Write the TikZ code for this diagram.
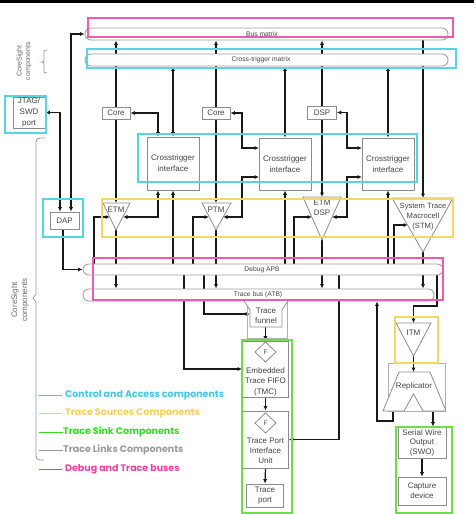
\documentclass[tikz,border=0pt]{standalone}
\usepackage{fontspec}
\setmainfont{Liberation Sans}
\newfontfamily\legendfont{Poppins}
\usetikzlibrary{arrows.meta}
\pgfdeclarelayer{back}
\pgfsetlayers{back,main}
\definecolor{cyanc}{HTML}{55D6E2}
\definecolor{yellc}{HTML}{F5D766}
\definecolor{greenc}{HTML}{6FDD4A}
\definecolor{pinkc}{HTML}{EE5AAE}
\definecolor{boxg}{HTML}{8C8C8C}
\definecolor{barg}{HTML}{A0A0A0}
\definecolor{txtg}{HTML}{444444}
\definecolor{lcyan}{HTML}{3CCBE0}
\definecolor{lyell}{HTML}{F7CF5A}
\definecolor{lgreen}{HTML}{33DD22}
\definecolor{lgray}{HTML}{9A9A9A}
\definecolor{lpink}{HTML}{EE3FA0}
\begin{document}
\begin{tikzpicture}[x=1pt,y=-1pt,
  conn/.style={line width=1.25pt,draw=black!90},
  arr/.style={conn,-{Latex[length=4.5pt,width=4.2pt]}},
  darr/.style={conn,{Latex[length=4.5pt,width=4.2pt]}-{Latex[length=4.5pt,width=4.2pt]}},
  gbox/.style={draw=boxg,line width=0.8pt,fill=white,inner sep=0pt,font=\fontsize{8}{10}\selectfont,text=txtg,align=center},
  obox/.style={draw=boxg!70,line width=0.8pt},
  bar/.style={draw=barg,line width=0.9pt,fill=white,rounded corners=5.8pt,inner sep=0pt},
  bartxt/.style={font=\fontsize{6.7}{7}\selectfont,text=txtg,inner sep=0pt},
  lbl/.style={font=\fontsize{8}{10}\selectfont,text=txtg,inner sep=0pt,align=center},
  shp/.style={draw=boxg,line width=0.8pt,fill=white},
  grp/.style={line width=1.1pt},
  brk/.style={draw=lgray,line width=0.8pt},
  legend/.style={font=\legendfont\bfseries\fontsize{9.5}{11}\selectfont,inner sep=0pt,anchor=west},
  legline/.style={line width=0.8pt}
]
\useasboundingbox (0,0) rectangle (474,514);
\fill[black] (0,0) rectangle (474,3);

% ---------- buses ----------
\node[bar,minimum width=363pt,minimum height=12pt] (busbar) at (266.5,34) {};
\node[bar,minimum width=363pt,minimum height=12pt] (ctmbar) at (266.5,60) {};
\node[bar,minimum width=360pt,minimum height=11pt] (apbbar) at (263,269.5) {};
\node[bar,minimum width=351pt,minimum height=12pt] (atbbar) at (258.5,295) {};
\node[bartxt] (buslbl) at (262,34) {Bus matrix};
\node[bartxt] (ctmlbl) at (261,60) {Cross-trigger matrix};
\node[bartxt] (apblbl) at (262,269.5) {Debug APB};
\node[bartxt] (atblbl) at (258,295) {Trace bus (ATB)};

% ---------- boxes ----------
\node[gbox,minimum width=32pt,minimum height=31pt,font=\fontsize{8}{11}\selectfont] (jtag) at (29,112.5) {JTAG/\\SWD\\port};
\node[gbox,minimum width=28pt,minimum height=12pt] (core1) at (116,113) {Core};
\node[gbox,minimum width=28pt,minimum height=12pt] (core2) at (216,113) {Core};
\node[gbox,minimum width=29pt,minimum height=13pt] (dsp) at (322,112.5) {DSP};
\node[gbox,minimum width=52pt,minimum height=53pt,font=\fontsize{8}{11}\selectfont] (cti1) at (173,163.5) {Crosstrigger\\interface};
\node[gbox,minimum width=52pt,minimum height=52pt,font=\fontsize{8}{11}\selectfont] (cti2) at (285,164) {Crosstrigger\\interface};
\node[gbox,minimum width=52pt,minimum height=52pt,font=\fontsize{8}{11}\selectfont] (cti3) at (388,164) {Crosstrigger\\interface};
\node[gbox,minimum width=29pt,minimum height=17pt] (dap) at (64.5,220.5) {DAP};

\node[gbox,minimum width=46pt,minimum height=56pt] (etf) at (265.5,369) {};
\node[gbox,minimum width=46pt,minimum height=57pt] (tpiu) at (265.5,439.5) {};
\node[gbox,minimum width=37pt,minimum height=23pt] (tport) at (265,495.5) {Trace\\port};
\node[gbox,minimum width=48pt,minimum height=31pt,font=\fontsize{8}{9.5}\selectfont] (swo) at (422,442.5) {Serial Wire\\Output\\(SWO)};
\node[gbox,minimum width=48pt,minimum height=28pt] (capt) at (422,491) {Capture\\device};

% diamonds and texts of sink boxes
\draw[shp] (265.5,342) -- (276,352) -- (265.5,362) -- (255,352) -- cycle;
\node[lbl,font=\fontsize{6.5}{7}\selectfont] (f1) at (265.5,352) {F};
\node[lbl,font=\fontsize{8}{10.5}\selectfont] (etftxt) at (265.5,381.5) {Embedded\\Trace FIFO\\(TMC)};
\draw[shp] (265.5,413) -- (276,423) -- (265.5,433) -- (255,423) -- cycle;
\node[lbl,font=\fontsize{6.5}{7}\selectfont] (f2) at (265.5,423) {F};
\node[lbl] (tpiutxt) at (265.5,451) {Trace Port\\Interface\\Unit};

% trace funnel
\draw[obox] (247,300) rectangle (287,338);
\draw[shp] (244,301) -- (250,310) -- (250,327) -- (282,327) -- (282,310) -- (288,301);
\node[lbl] (funtxt) at (266,316) {Trace\\funnel};

% replicator
\draw[obox] (388,363) rectangle (445,411);
\draw[shp] (399,372) -- (430,372) -- (446,411) -- (423,411) -- (413.5,394) -- (404,411) -- (383,411) -- cycle;
\node[lbl] (reptxt) at (414,386) {Replicator};

% ---------- triangles ----------
\draw[shp] (103,203) -- (130,203) -- (116,230) -- cycle;
\node[lbl] (etm) at (116,209.5) {ETM};
\draw[shp] (202,203) -- (231,203) -- (216,230) -- cycle;
\node[lbl] (ptm) at (216,209.5) {PTM};
\draw[shp] (303,197) -- (341,197) -- (322,240) -- cycle;
\node[lbl] (etmdsp) at (322,208) {ETM\\DSP};
\draw[shp] (392,198) -- (453,198) -- (423,252) -- cycle;
\node[lbl,font=\fontsize{7.6}{10}\selectfont] (stm) at (423,217) {System Trace\\Macrocell\\(STM)};
\draw[shp] (396,323) -- (431,323) -- (413.5,356) -- cycle;
\node[lbl] (itm) at (413.5,333) {ITM};

% ---------- port coordinates ----------
\coordinate (etmT) at (116,203); \coordinate (etmB) at (116,230);
\coordinate (etmL) at (110,217); \coordinate (etmR) at (123,217);
\coordinate (ptmT) at (216,203); \coordinate (ptmB) at (216,230);
\coordinate (ptmL) at (209,217); \coordinate (ptmR) at (223,217);
\coordinate (edT) at (322,197); \coordinate (edB) at (322,240);
\coordinate (edL) at (312,217); \coordinate (edR) at (332,217);
\coordinate (stmT) at (423,198); \coordinate (stmB) at (423,252);
\coordinate (stmL) at (408,225);
\coordinate (itmT) at (413.5,323); \coordinate (itmB) at (413.5,356);
\coordinate (repT) at (413.5,372); \coordinate (repL) at (393,411);
\coordinate (repR) at (433,411); \coordinate (repbend) at (393,421);
\coordinate (funL) at (250,314); \coordinate (funB) at (265.5,327);
\coordinate (itmbend) at (437,306);
\coordinate (cti2u) at (259,148); \coordinate (cti2l) at (259,177);
\coordinate (cti3u) at (362,148); \coordinate (cti3l) at (362,177);
\coordinate (k60) at (60,0); \coordinate (k71) at (71,0); \coordinate (k63) at (63,0);
\coordinate (k94) at (94,0); \coordinate (k158) at (158,0); \coordinate (k173) at (173,0);
\coordinate (k193) at (193,0); \coordinate (k242) at (242,0); \coordinate (k294) at (294,0);
\coordinate (k347) at (347,0); \coordinate (k394) at (394,0); \coordinate (k184) at (184,0);
\coordinate (k204) at (204,0); \coordinate (k339) at (339,0); \coordinate (k377) at (377,0);

% ---------- connectors ----------
\begin{pgfonlayer}{back}
\draw[darr] (jtag.east) -| (dap.north -| k60);
\draw[darr] (busbar.west) -| (dap.north -| k71);
\draw[arr] (dap.south -| k63) |- (apbbar.west);
% core 1
\draw[arr] (core1.north) -- (core1.north |- busbar.south);
\draw[arr] (core1.south) -- (etmT);
\draw[darr] (core1.east) -| (cti1.north -| k158);
\draw[darr] (ctmbar.south -| k173) -- (cti1.north -| k173);
\draw[darr] (cti1.south -| k158) |- (etmR);
\draw[arr] (apbbar.north -| k173) -- (cti1.south -| k173);
\draw[arr] (apbbar.north -| k94) |- (etmL);
\draw[arr] (etmB) -- (etmB |- atbbar.north);
% core 2
\draw[arr] (core2.north) -- (core2.north |- busbar.south);
\draw[arr] (core2.south) -- (ptmT);
\draw[darr] (core2.east) -| (k242 |- cti2u) -- (cti2u);
\draw[darr] (ctmbar.south -| cti2.north) -- (cti2.north);
\draw[darr] (cti2l) -- (k242 |- cti2l) |- (ptmR);
\draw[arr] (apbbar.north -| cti2.south) -- (cti2.south);
\draw[arr] (apbbar.north -| k193) |- (ptmL);
\draw[arr] (ptmB) -- (ptmB |- atbbar.north);
% DSP
\draw[arr] (dsp.north) -- (dsp.north |- busbar.south);
\draw[arr] (dsp.south) -- (edT);
\draw[darr] (dsp.east) -| (k347 |- cti3u) -- (cti3u);
\draw[darr] (ctmbar.south -| cti3.north) -- (cti3.north);
\draw[darr] (cti3l) -- (k347 |- cti3l) |- (edR);
\draw[arr] (apbbar.north -| cti3.south) -- (cti3.south);
\draw[arr] (apbbar.north -| k294) |- (edL);
\draw[arr] (edB) -- (edB |- atbbar.north);
% STM
\draw[arr] (busbar.south -| stmT) -- (stmT);
\draw[arr] (apbbar.north -| k394) |- (stmL);
\draw[arr] (stmB) -- (stmB |- atbbar.north);
% sinks
\draw[arr] (apbbar.south -| k184) |- (etf.west);
\draw[arr] (apbbar.south -| k204) |- (funL);
\draw[arr] (funB) -- (etf.north -| funB);
\draw[arr] (etf.south) -- (tpiu.north);
\draw[arr] (apbbar.south -| k339) |- (tpiu.east);
\draw[arr] (tpiu.south) -- (tport.north);
\draw[arr] (apbbar.south -| itmbend) -- (itmbend) -| (itmT);
\draw[arr] (itmB) -- (repT);
\draw[arr] (repL) -- (repbend) -| (atbbar.south -| k377);
\draw[arr] (repR) -- (swo.north -| repR);
\draw[arr] (swo.south) -- (capt.north);
\end{pgfonlayer}

% ---------- group frames ----------
\draw[pinkc,grp] (88,18) rectangle (453,37);
\draw[pinkc,grp] (93,258) rectangle (443,300);
\draw[cyanc,grp] (87,49) rectangle (456,68);
\draw[cyanc,grp] (5,96) rectangle (46,133);
\draw[cyanc,grp] (43,199) rectangle (83,237);
\draw[cyanc,grp] (138,134) rectangle (417,182);
\draw[yellc,grp] (102,199) rectangle (453,237);
\draw[yellc,grp] (395,317) rectangle (438,363);
\draw[greenc,grp] (242,340) rectangle (292,513);
\draw[greenc,grp] (396,427) rectangle (452,513);

% ---------- CoreSight labels and braces ----------
\node[rotate=90,font=\fontsize{7}{8.5}\selectfont,text=txtg!80,align=center,inner sep=0pt] (cs1) at (24,61) {CoreSight\\components};
\draw[brk] (47,50) .. controls (44,50) .. (44,54) -- (44,59) .. controls (44,62) .. (41.5,62) .. controls (44,62) .. (44,65) -- (44,69) .. controls (44,73) .. (47,73);
\node[rotate=90,font=\fontsize{8}{10}\selectfont,text=txtg!80,align=center,inner sep=0pt] (cs2) at (20,300) {CoreSight\\components};
\draw[brk] (45,138) .. controls (36,138) .. (36,146) -- (36,294) -- (33,298) -- (36,302) -- (36,452) .. controls (36,460) .. (44,460);

% ---------- legend ----------
\draw[lcyan,legline] (39,395) -- (62,395);
\node[legend,text=lcyan] (lg1) at (65,395) {Control and Access components};
\draw[lyell,legline] (39,413) -- (62,413);
\node[legend,text=lyell] (lg2) at (65,413) {Trace Sources Components};
\draw[lgreen,legline] (39,432) -- (63,432);
\node[legend,text=lgreen] (lg3) at (63,432) {Trace Sink Components};
\draw[lgray,legline] (39,450) -- (63,450);
\node[legend,text=lgray] (lg4) at (63,450) {Trace Links Components};
\draw[lpink,legline] (39,469) -- (62,469);
\node[legend,text=lpink] (lg5) at (65,469) {Debug and Trace buses};
\end{tikzpicture}
\end{document}
